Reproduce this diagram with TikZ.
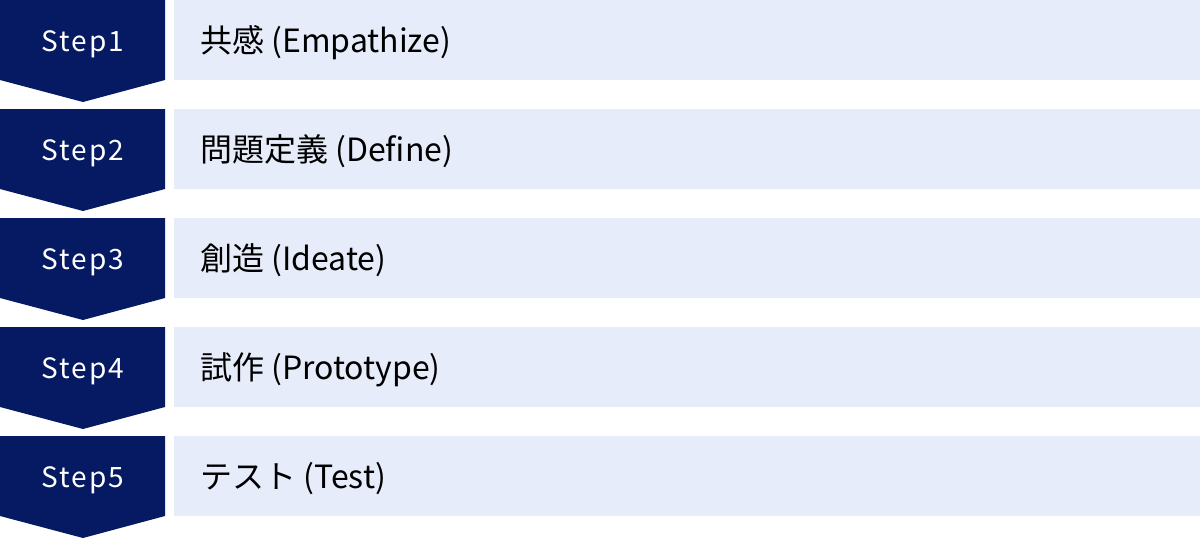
\documentclass[tikz,border=0pt]{standalone}
\usepackage{fontspec}
\setmainfont{Noto Sans CJK JP}
\newfontfamily\stepfont[LetterSpace=7]{Noto Sans CJK JP}
\newfontfamily\labelfont{Noto Sans CJK JP}
\definecolor{navy}{HTML}{051A62}
\definecolor{pale}{HTML}{E6ECF9}
\begin{document}
\begin{tikzpicture}[x=1pt,y=-1pt,
  chev/.style={fill=navy,draw=none},
  band/.style={fill=pale,draw=none},
  steptext/.style={text=white,font=\stepfont\fontsize{28}{33}\selectfont,inner sep=0pt,anchor=base},
  labeltext/.style={text=black,font=\labelfont\fontsize{32}{38}\selectfont,inner sep=0pt,anchor=base west}]
\useasboundingbox (0,0) rectangle (1200,538);
\foreach \i/\t/\lab in {1/0/{共感 (Empathize)},2/109/{問題定義 (Define)},3/218/{創造 (Ideate)},4/327/{試作 (Prototype)},5/436/{テスト (Test)}}{
  \fill[chev] (0,\t) -- (165,\t) -- (165,\t+80) -- (83,\t+102) -- (0,\t+80) -- cycle;
  \fill[band] (174,\t) rectangle (1200,\t+80);
  \node[steptext] (s\i) at (83,\t+51) {Step\i};
  \node[labeltext] (l\i) at (200,\t+52) {\lab};
}
\end{tikzpicture}
\end{document}
